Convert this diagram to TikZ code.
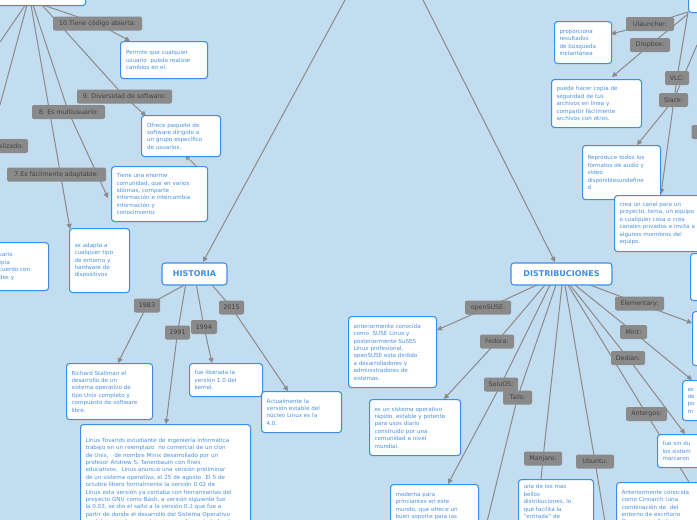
\documentclass[tikz,border=0pt]{standalone}
\usepackage{fontspec}
\setmainfont{DejaVu Sans}
\usetikzlibrary{arrows.meta,calc}
\pgfdeclarelayer{bg}\pgfdeclarelayer{edges}\pgfsetlayers{bg,edges,main}
\definecolor{bgc}{HTML}{C3DDF0}
\definecolor{bord}{HTML}{3C8FE6}
\definecolor{txtb}{HTML}{4A90E0}
\definecolor{lab}{HTML}{8A8A8A}
\definecolor{edg}{HTML}{8A8A8A}
\tikzset{
 bx/.style={draw=bord,line width=1.1pt,fill=white,rounded corners=3pt,align=left,text=txtb,font=\fontsize{5.6}{7.4}\selectfont,inner sep=5pt,anchor=north west},
 ttl/.style={draw=bord,line width=1.1pt,fill=white,rounded corners=3pt,text=bord,font=\bfseries\fontsize{8}{9}\selectfont,inner sep=0pt},
 lb/.style={fill=lab,rounded corners=2pt,text=black!75,font=\fontsize{6.3}{7}\selectfont,inner sep=0pt,minimum height=14pt},
 ln/.style={draw=edg,line width=1pt},
 ar/.style={ln,-{Triangle[width=5pt,length=5pt]}}
}
\newcommand\bxn[7]{\node[bx,minimum width=#4pt,minimum height=#5pt,text width=#6pt] (#1) at (#2,#3) {#7};}
\begin{document}
\begin{tikzpicture}[x=1pt,y=-1pt]
\begin{pgfonlayer}{bg}
\fill[bgc] (0,0) rectangle (697,520);
\end{pgfonlayer}
\useasboundingbox (0,0) rectangle (697,520);
% ---------- left top cluster
\node[bx,minimum width=100pt,minimum height=30pt] (top) at (-15,-25) {};
\bxn{permite}{120}{41}{87}{37}{76}{Permite que cualquier\\usuario\ \ pueda realizar\\cambios en el.}
\bxn{ofrece}{141}{115}{79}{41}{68}{Ofrece paquete de\\software dirigido a\\un grupo específico\\de usuarios.}
\bxn{tiene}{111}{166}{96}{55}{86}{Tiene una enorme\\comunidad, que en varios\\idiomas, comparte\\información e intercambia\\información y\\conocimiento.}
\bxn{adapta}{69}{228}{58}{64}{50}{se adapta a\\cualquier tipo\\de entorno y\\hardware de\\dispositivos}
\bxn{usuario}{-40}{242}{86}{48}{78}{\hspace*{30pt}suario\\\hspace*{30pt}ropia\\\hspace*{30pt}acuerdo con\\\hspace*{30pt}ades y}
\node[lb,minimum width=89pt] (l10) at (97.5,23.5) {10.Tiene código abierta:};
\node[lb,minimum width=95pt] (l9) at (124.5,96.5) {9. Diversidad de software:};
\node[lb,minimum width=73pt] (l8) at (68.5,112) {8. Es multiusuario:};
\node[lb,minimum width=40pt] (lrz) at (8,146) {\hspace*{6pt}alizado:};
\node[lb,minimum width=99pt] (l7) at (56.5,174.5) {7.Es fácilmente adaptable:};
\begin{pgfonlayer}{edges}
\draw[ln] (26,4) -- (0,42);
\draw[ln] (27,5) -- (0,105);
\draw[ar] (40,4) -- (l10.center) -- (permite.north west -| 130,41);
\draw[ar] (42,5) -- (l9.center) -- (146,116);
\draw[ar] (33,5) -- (l8.center) -- (108,198);
\draw[ar] (31,5) -- (70,229);
\draw[ar] (200,170) -- (185,155);
\draw[ar] (345,0) -- (203,262);
\draw[ar] (423,0) -- (555,262);
\end{pgfonlayer}
% ---------- HISTORIA
\node[ttl,minimum width=65pt,minimum height=22pt] (his) at (194.5,274) {HISTORIA};
\bxn{rich}{66}{363}{86}{56}{76}{Richard Stallman el\\desarrollo de un\\sistema operativo de\\tipo Unix completo y\\compuesto de software\\libre.}
\bxn{linus}{80}{424}{170}{120}{160}{Linus Tovarids estudiante de ingeniería informática\\trabajo en un reemplazo\ \ no comercial de un clon\\de Unix,\ \ \ de nombre Minix desarrollado por un\\profesor Andrew S. Tanenbaum con fines\\educativos,\ \ Linus anuncio una versión preliminar\\de un sistema operativo, el 25 de agosto. El 5 de\\octubre libero formalmente la versión 0.02 de\\Linux esta versión ya contaba con herramientas del\\proyecto GNU como Bash, a versión siguiente fue\\la 0.03, se dio el salto a la versión 0.1 que fue a\\partir de donde el desarrollo del Sistema Operativo\\contaba con el apoyo de programadores de todo el\\mundo.}
\bxn{fue}{189}{363}{73}{33}{63}{fue liberada la\\versión 1.0 del\\kernel.}
\bxn{act}{261}{391}{80}{41}{70}{Actualmente la\\versión estable del\\núcleo Linux es la\\4.0.}
\node[lb,minimum width=26pt] (y83) at (147,305.5) {1983};
\node[lb,minimum width=25pt] (y91) at (177.5,332.5) {1991};
\node[lb,minimum width=26pt] (y94) at (204,327) {1994};
\node[lb,minimum width=25pt] (y15) at (231.5,307.5) {2015};
\begin{pgfonlayer}{edges}
\draw[ar] (his.south west) ++(22,0) -- (y83.center) -- (118,363);
\draw[ar] (his.south) ++(-9,0) -- (y91.center) -- (166,424);
\draw[ar] (his.south) ++(2,0) -- (y94.center) -- (212,363);
\draw[ar] (his.south) ++(18,0) -- (y15.center) -- (288,391);
\end{pgfonlayer}
% ---------- right top cluster
\node[bx,minimum width=30pt,minimum height=25pt] (rtop) at (688,-13) {};
\bxn{prop}{554}{21}{55}{42}{47}{proporciona\\resultados\\de búsqueda\\instantánea}
\bxn{puede}{551}{79}{89}{48}{80}{puede hacer copia de\\seguridad de tus\\archivos en línea y\\compartir fácilmente\\archivos con otros.}
\bxn{repro}{582}{145}{78}{54}{68}{Reproduce todos los\\formatos de audio y\\video\\disponiblesundefine\\d}
\bxn{crea}{614}{195}{100}{56}{90}{crea un canal para un\\proyecto, tema, un equipo\\o cualquier cosa o crea\\canales privados e invita a\\algunos miembros del\\equipo.}
\node[lb,minimum width=48pt] (ula) at (650,24) {Ulauncher:};
\node[lb,minimum width=40pt] (drop) at (650,45) {Dropbox:};
\node[lb,minimum width=24pt] (vlc) at (677,78) {VLC:};
\node[lb,minimum width=29pt] (slack) at (673.5,100) {Slack:};
\node[lb,minimum width=15pt] (lp) at (699,132) {};
\begin{pgfonlayer}{edges}
\draw[ar] (688,12) -- (ula.center) -- (611,34);
\draw[ar] (688,14) -- (drop.center) -- (612,77);
\draw[ar] (688,12) -- (vlc.center) -- (661,194);
\draw[ar] (697,45) -- (slack.center) -- (637,145);
\end{pgfonlayer}
% ---------- DISTRIBUCIONES
\node[ttl,minimum width=101pt,minimum height=22pt] (dis) at (561.5,274) {DISTRIBUCIONES};
\bxn{suse}{348}{316}{88}{71}{78}{anteriormente conocida\\como\ \ SUSE Linux y\\posteriormente SuSES\\Linux profesional,\\openSUSE esta dirdido\\a desarrolladores y\\administradores de\\sistemas.}
\bxn{fed}{369}{399}{91}{56}{81}{es un sistema operativo\\rápido, estable y potente\\para usos diario\\construido por una\\comunidad a nivel\\mundial.}
\bxn{mod}{390}{484}{88}{50}{78}{moderna para\\princiantes en este\\mundo, que ofrece un\\buen soporte para las\\aplicaciones}
\bxn{una}{518}{479}{75}{50}{65}{una de los mas\\bellos\\distribuciones, lo\\que facilita la\\"entrada" de\\usuarios}
\bxn{ant}{616}{482}{100}{50}{90}{Anteriormente conocida\\como Cinnarch (una\\combinación de\ \ del\\entorno de escritorio\\Cinnamon y Arch}
\bxn{r1}{690}{253}{20}{47}{10}{}
\bxn{r2}{692}{311}{20}{54}{10}{}
\bxn{r3}{682}{380}{30}{40}{20}{es\\de\\po\\m}
\bxn{r4}{657}{434}{60}{33}{50}{fue sin du\\los sistem\\marcaron}
\node[lb,minimum width=46pt] (osu) at (488,307.5) {openSUSE:};
\node[lb,minimum width=34pt] (fedl) at (497,341.5) {Fedora:};
\node[lb,minimum width=34pt] (solu) at (501,384.5) {SoluOS:};
\node[lb,minimum width=29pt] (tails) at (517.5,397.5) {Tails:};
\node[lb,minimum width=38pt] (manj) at (543,458.5) {Manjaro:};
\node[lb,minimum width=38pt] (ubu) at (595,461.5) {Ubuntu:};
\node[lb,minimum width=49pt] (elem) at (639.5,303.5) {Elementary:};
\node[lb,minimum width=27pt] (mint) at (633.5,332) {Mint:};
\node[lb,minimum width=34pt] (ded) at (628,358) {Dedian:};
\node[lb,minimum width=41pt] (antl) at (646.5,414) {Antergos:};
\begin{pgfonlayer}{edges}
\draw[ar] (537,285) -- (osu.center) -- (437,330);
\draw[ar] (545,285) -- (fedl.center) -- (444,399);
\draw[ar] (550,285) -- (solu.center) -- (448,484);
\draw[ln] (556,285) -- (tails.center) -- (487,522);
\draw[ln] (562,285) -- (manj.center) -- (541,479);
\draw[ln] (565,285) -- (ubu.center) -- (605,522);
\draw[ar] (590,285) -- (elem.center) -- (692,323);
\draw[ar] (575,285) -- (mint.center) -- (692,380);
\draw[ar] (570,285) -- (ded.center) -- (685,434);
\draw[ln] (568,285) -- (antl.center) -- (689,482);
\end{pgfonlayer}
\end{tikzpicture}
\end{document}
